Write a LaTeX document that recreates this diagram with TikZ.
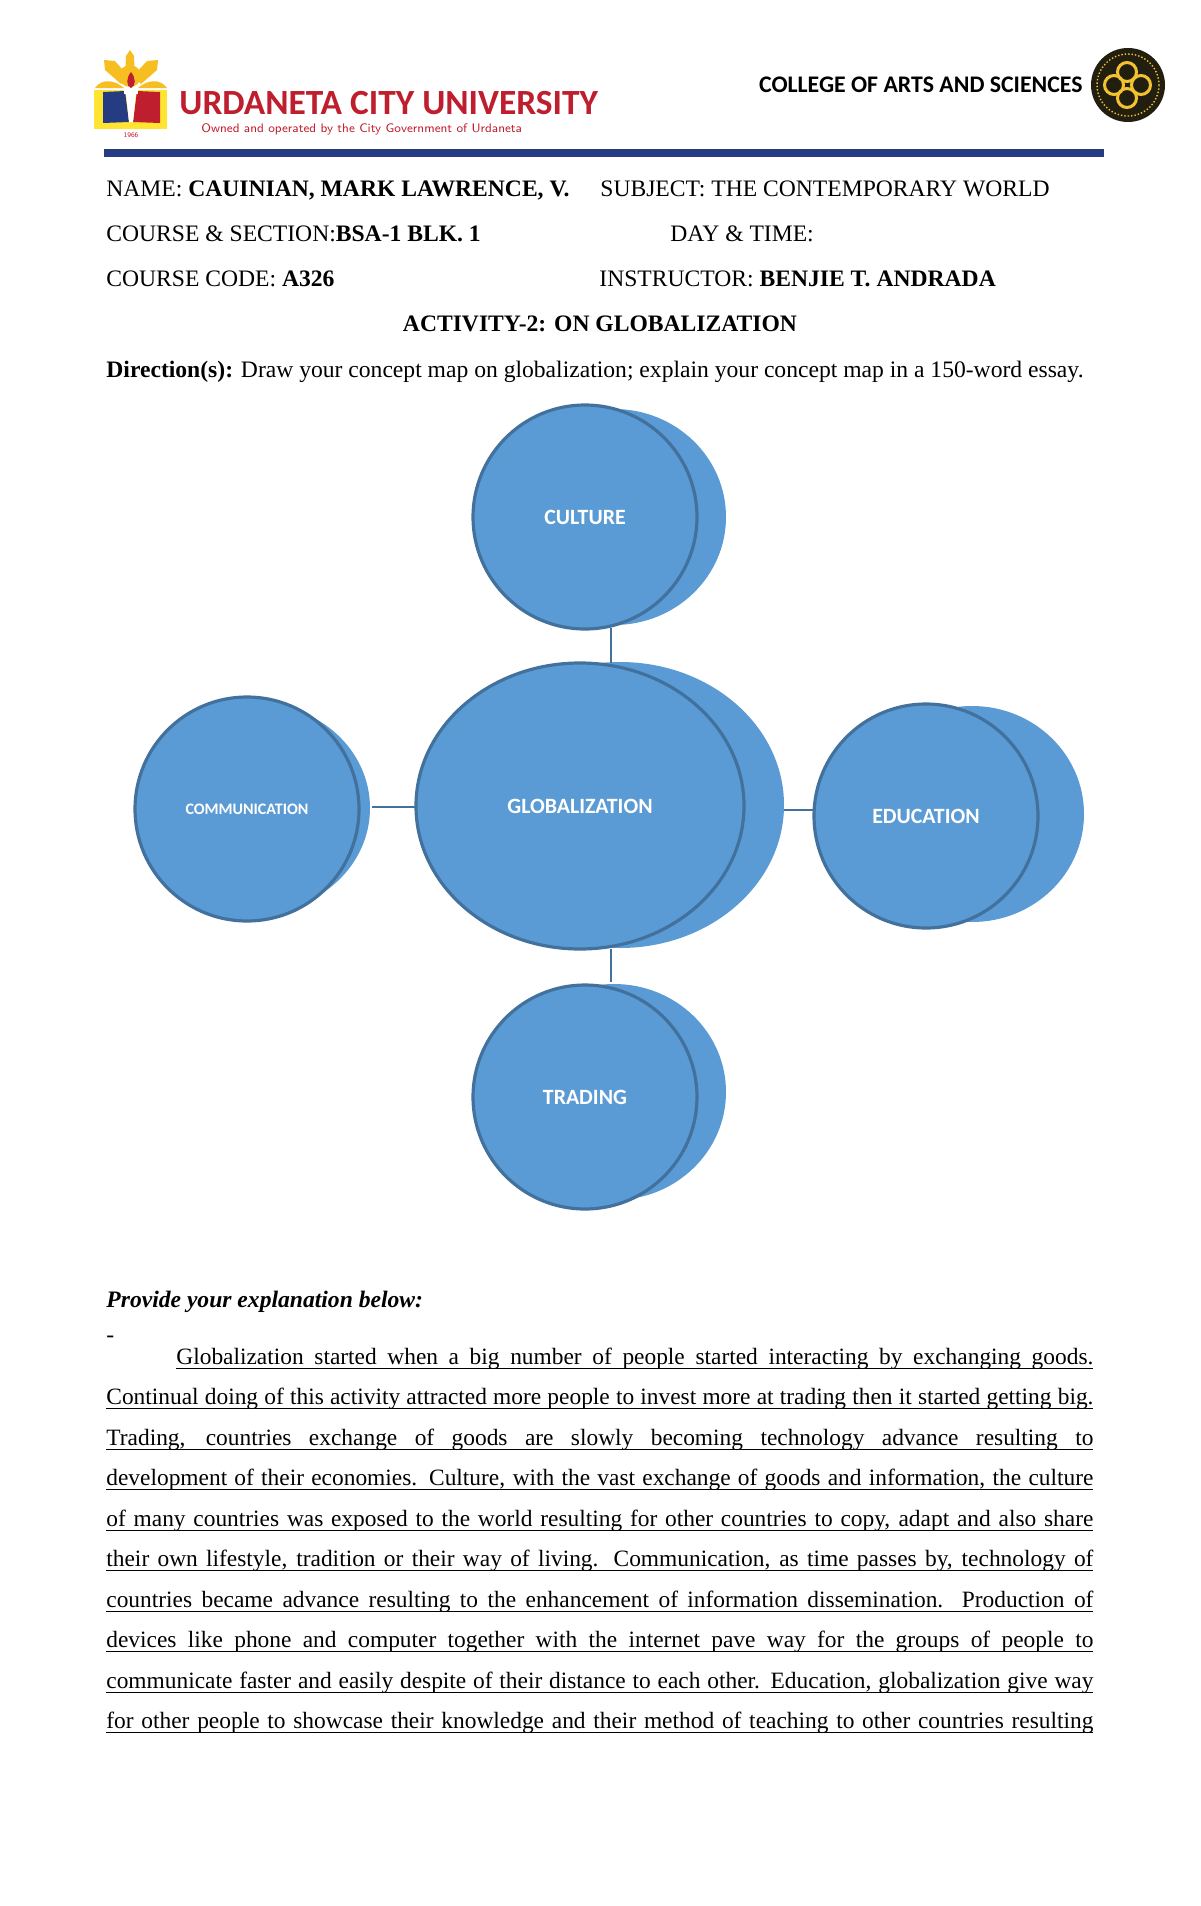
\documentclass[tikz,border=0pt]{standalone}
\usepackage{fontspec}
\setmainfont{Liberation Serif}
\newfontfamily\logofont{Carlito}
\usetikzlibrary{positioning, shapes.geometric}
\definecolor{bubble}{HTML}{5B9BD5}
\definecolor{bubbleline}{HTML}{41719C}
\definecolor{ucured}{HTML}{BE1E2D}
\definecolor{barblue}{HTML}{253C82}
\definecolor{seal}{HTML}{231F10}
\definecolor{sealgold}{HTML}{F2C230}
\definecolor{bookyellow}{HTML}{FFE431}
\definecolor{raygold}{HTML}{F6BE21}
\newlength{\linew}
\setlength{\linew}{493.5pt}
\newcommand{\bodyline}[1]{\rlap{\rule[-2.6pt]{\linew}{0.55pt}}\makebox[\linew][s]{#1}}

\begin{document}
\begin{tikzpicture}[x=0.5pt, y=-0.5pt,
  back/.style={ellipse, fill=bubble, inner sep=0pt},
  front/.style={ellipse, draw=bubbleline, line width=1.6pt, fill=bubble, inner sep=0pt,
                text=white, font=\logofont\bfseries\fontsize{10.9}{12}\selectfont},
  link/.style={draw=bubbleline, line width=1.1pt},
  head/.style={anchor=base west, inner sep=0pt, font=\fontsize{11.8}{14}\selectfont},
  para/.style={anchor=base west, inner sep=0pt, font=\fontsize{11.7}{14}\selectfont}]
  \useasboundingbox (0,0) rectangle (1200,1906);
  \fill[white] (0,0) rectangle (1200,1906);

  % logo
  \fill[bookyellow] (94,90) rectangle (167,129);
  \fill[raygold] (130,50) -- (134,56) -- (135,80) -- (125,80) -- (126,56) -- cycle;
  \fill[raygold] (104,60) -- (115,61) -- (128,76) -- (121,84) -- (105,70) -- cycle;
  \fill[raygold] (158,60) -- (157,70) -- (141,84) -- (133,76) -- (147,61) -- cycle;
  \fill[raygold] (95,88) .. controls (102,78) and (115,80) .. (124,88) -- cycle;
  \fill[raygold] (167,88) .. controls (160,78) and (147,80) .. (138,88) -- cycle;
  \fill[raygold] (130,76) circle[radius=11];
  \fill[ucured] (131,72) .. controls (136,78) and (136,86) .. (131,88) .. controls (126,86) and (126,78) .. (131,72) -- cycle;
  \fill[barblue] (103,92) -- (125,91) -- (129,122) -- (103,123) -- cycle;
  \fill[ucured] (137,91) -- (160,92) -- (160,123) -- (133,122) -- cycle;
  \fill[white] (124,90) rectangle (138,94);
  \fill[white] (126,94) -- (136,94) -- (133,122) -- (129,122) -- cycle;
  \node[inner sep=0pt, text=ucured, font=\sffamily\fontsize{3.5}{4}\selectfont] (year) at (131,135) {1966};
  \node[inner sep=0pt, anchor=west, text=ucured, font=\logofont\bfseries\fontsize{17.7}{19}\selectfont] (uni) at (179,103) {URDANETA CITY UNIVERSITY};
  \node[inner sep=0pt, anchor=west, text=ucured, font=\sffamily\fontsize{6.2}{7}\selectfont] (owned) at (201,129) {Owned and operated by the City Government of Urdaneta};
  \node[inner sep=0pt, anchor=east, font=\logofont\bfseries\fontsize{11.9}{13}\selectfont] (college) at (1083,85) {COLLEGE OF ARTS AND SCIENCES};
  \fill[seal] (1128,85) circle[radius=37];
  \draw[sealgold, line width=0.7pt, densely dotted] (1128,85) circle[radius=31];
  \draw[sealgold, line width=1.5pt] (1127,72) circle[radius=9.5] (1114,85) circle[radius=9.5] (1141,85) circle[radius=9.5] (1127,98) circle[radius=9.5];
  \fill[barblue] (104,149) rectangle (1104,157);

  % form fields
  \node[head] (name) at (106,196) {NAME: \textbf{CAUINIAN, MARK LAWRENCE, V.}};
  \node[head] (subject) at (600,196) {SUBJECT: THE CONTEMPORARY WORLD};
  \node[head] (course) at (106,241) {COURSE \& SECTION:\textbf{BSA-1 BLK. 1}};
  \node[head] (day) at (670,241) {DAY \& TIME:};
  \node[head] (code) at (106,286) {COURSE CODE: \textbf{A326}};
  \node[head] (instructor) at (599,286) {INSTRUCTOR: \textbf{BENJIE T. ANDRADA}};
  \node[head, anchor=base] (title) at (600,331) {\textbf{ACTIVITY-2: ON GLOBALIZATION}};
  \node[head] (direction) at (106,377) {\textbf{Direction(s):} Draw your concept map on globalization; explain your concept map in a 150-word essay.};

  % back discs
  \node[back, minimum width=112pt, minimum height=108pt] (cultureb) at (614,517) {};
  \node[back, minimum width=164pt, minimum height=143pt] (globalb) at (620,805) {};
  \node[back, minimum width=112pt, minimum height=104pt] (commb) at (258,808) {};
  \node[back, minimum width=112pt, minimum height=108pt] (eduab) at (972,814) {};
  \node[back, minimum width=112pt, minimum height=108pt] (tradeb) at (614,1092) {};

  % connectors
  \coordinate (cu) at (611,628);
  \coordinate (cd) at (611,663);
  \coordinate (td) at (611,949);
  \coordinate (tu) at (611,982);
  \coordinate (ml) at (372,807);
  \coordinate (mr) at (416,807);
  \coordinate (el) at (784,810);
  \coordinate (er) at (814,810);
  \draw[link] (cu) -- (cd);
  \draw[link] (td) -- (tu);
  \draw[link] (ml) -- (mr);
  \draw[link] (el) -- (er);

  % front discs
  \node[front, minimum width=164pt, minimum height=143pt] (global) at (580,806) {GLOBALIZATION};
  \node[front, minimum width=112pt, minimum height=112pt] (culture) at (585,517) {CULTURE};
  \node[front, minimum width=112pt, minimum height=112pt, font=\logofont\bfseries\fontsize{8}{9}\selectfont] (comm) at (247,809) {COMMUNICATION};
  \node[front, minimum width=112pt, minimum height=112pt] (edu) at (926,816) {EDUCATION};
  \node[front, minimum width=112pt, minimum height=112pt] (trade) at (585,1097) {TRADING};

  % explanation
  \node[head] (provide) at (106,1307) {\textbf{\textit{Provide your explanation below:}}};
  \node[head] (dash) at (106,1342) {-};
  \node[para] (l1) at (176,1364) {\setlength{\linew}{458.5pt}\bodyline{Globalization started when a big number of people started interacting by exchanging goods.}};
  \node[para] (l2) at (106,1404) {\bodyline{Continual doing of this activity attracted more people to invest more at trading then it started getting big.}};
  \node[para] (l3) at (106,1445) {\bodyline{Trading, countries exchange of goods are slowly becoming technology advance resulting to}};
  \node[para] (l4) at (106,1485) {\bodyline{development of their economies. Culture, with the vast exchange of goods and information, the culture}};
  \node[para] (l5) at (106,1526) {\bodyline{of many countries was exposed to the world resulting for other countries to copy, adapt and also share}};
  \node[para] (l6) at (106,1566) {\bodyline{their own lifestyle, tradition or their way of living. Communication, as time passes by, technology of}};
  \node[para] (l7) at (106,1607) {\bodyline{countries became advance resulting to the enhancement of information dissemination. Production of}};
  \node[para] (l8) at (106,1647) {\bodyline{devices like phone and computer together with the internet pave way for the groups of people to}};
  \node[para] (l9) at (106,1688) {\bodyline{communicate faster and easily despite of their distance to each other. Education, globalization give way}};
  \node[para] (l10) at (106,1728) {\bodyline{for other people to showcase their knowledge and their method of teaching to other countries resulting}};
\end{tikzpicture}
\end{document}
